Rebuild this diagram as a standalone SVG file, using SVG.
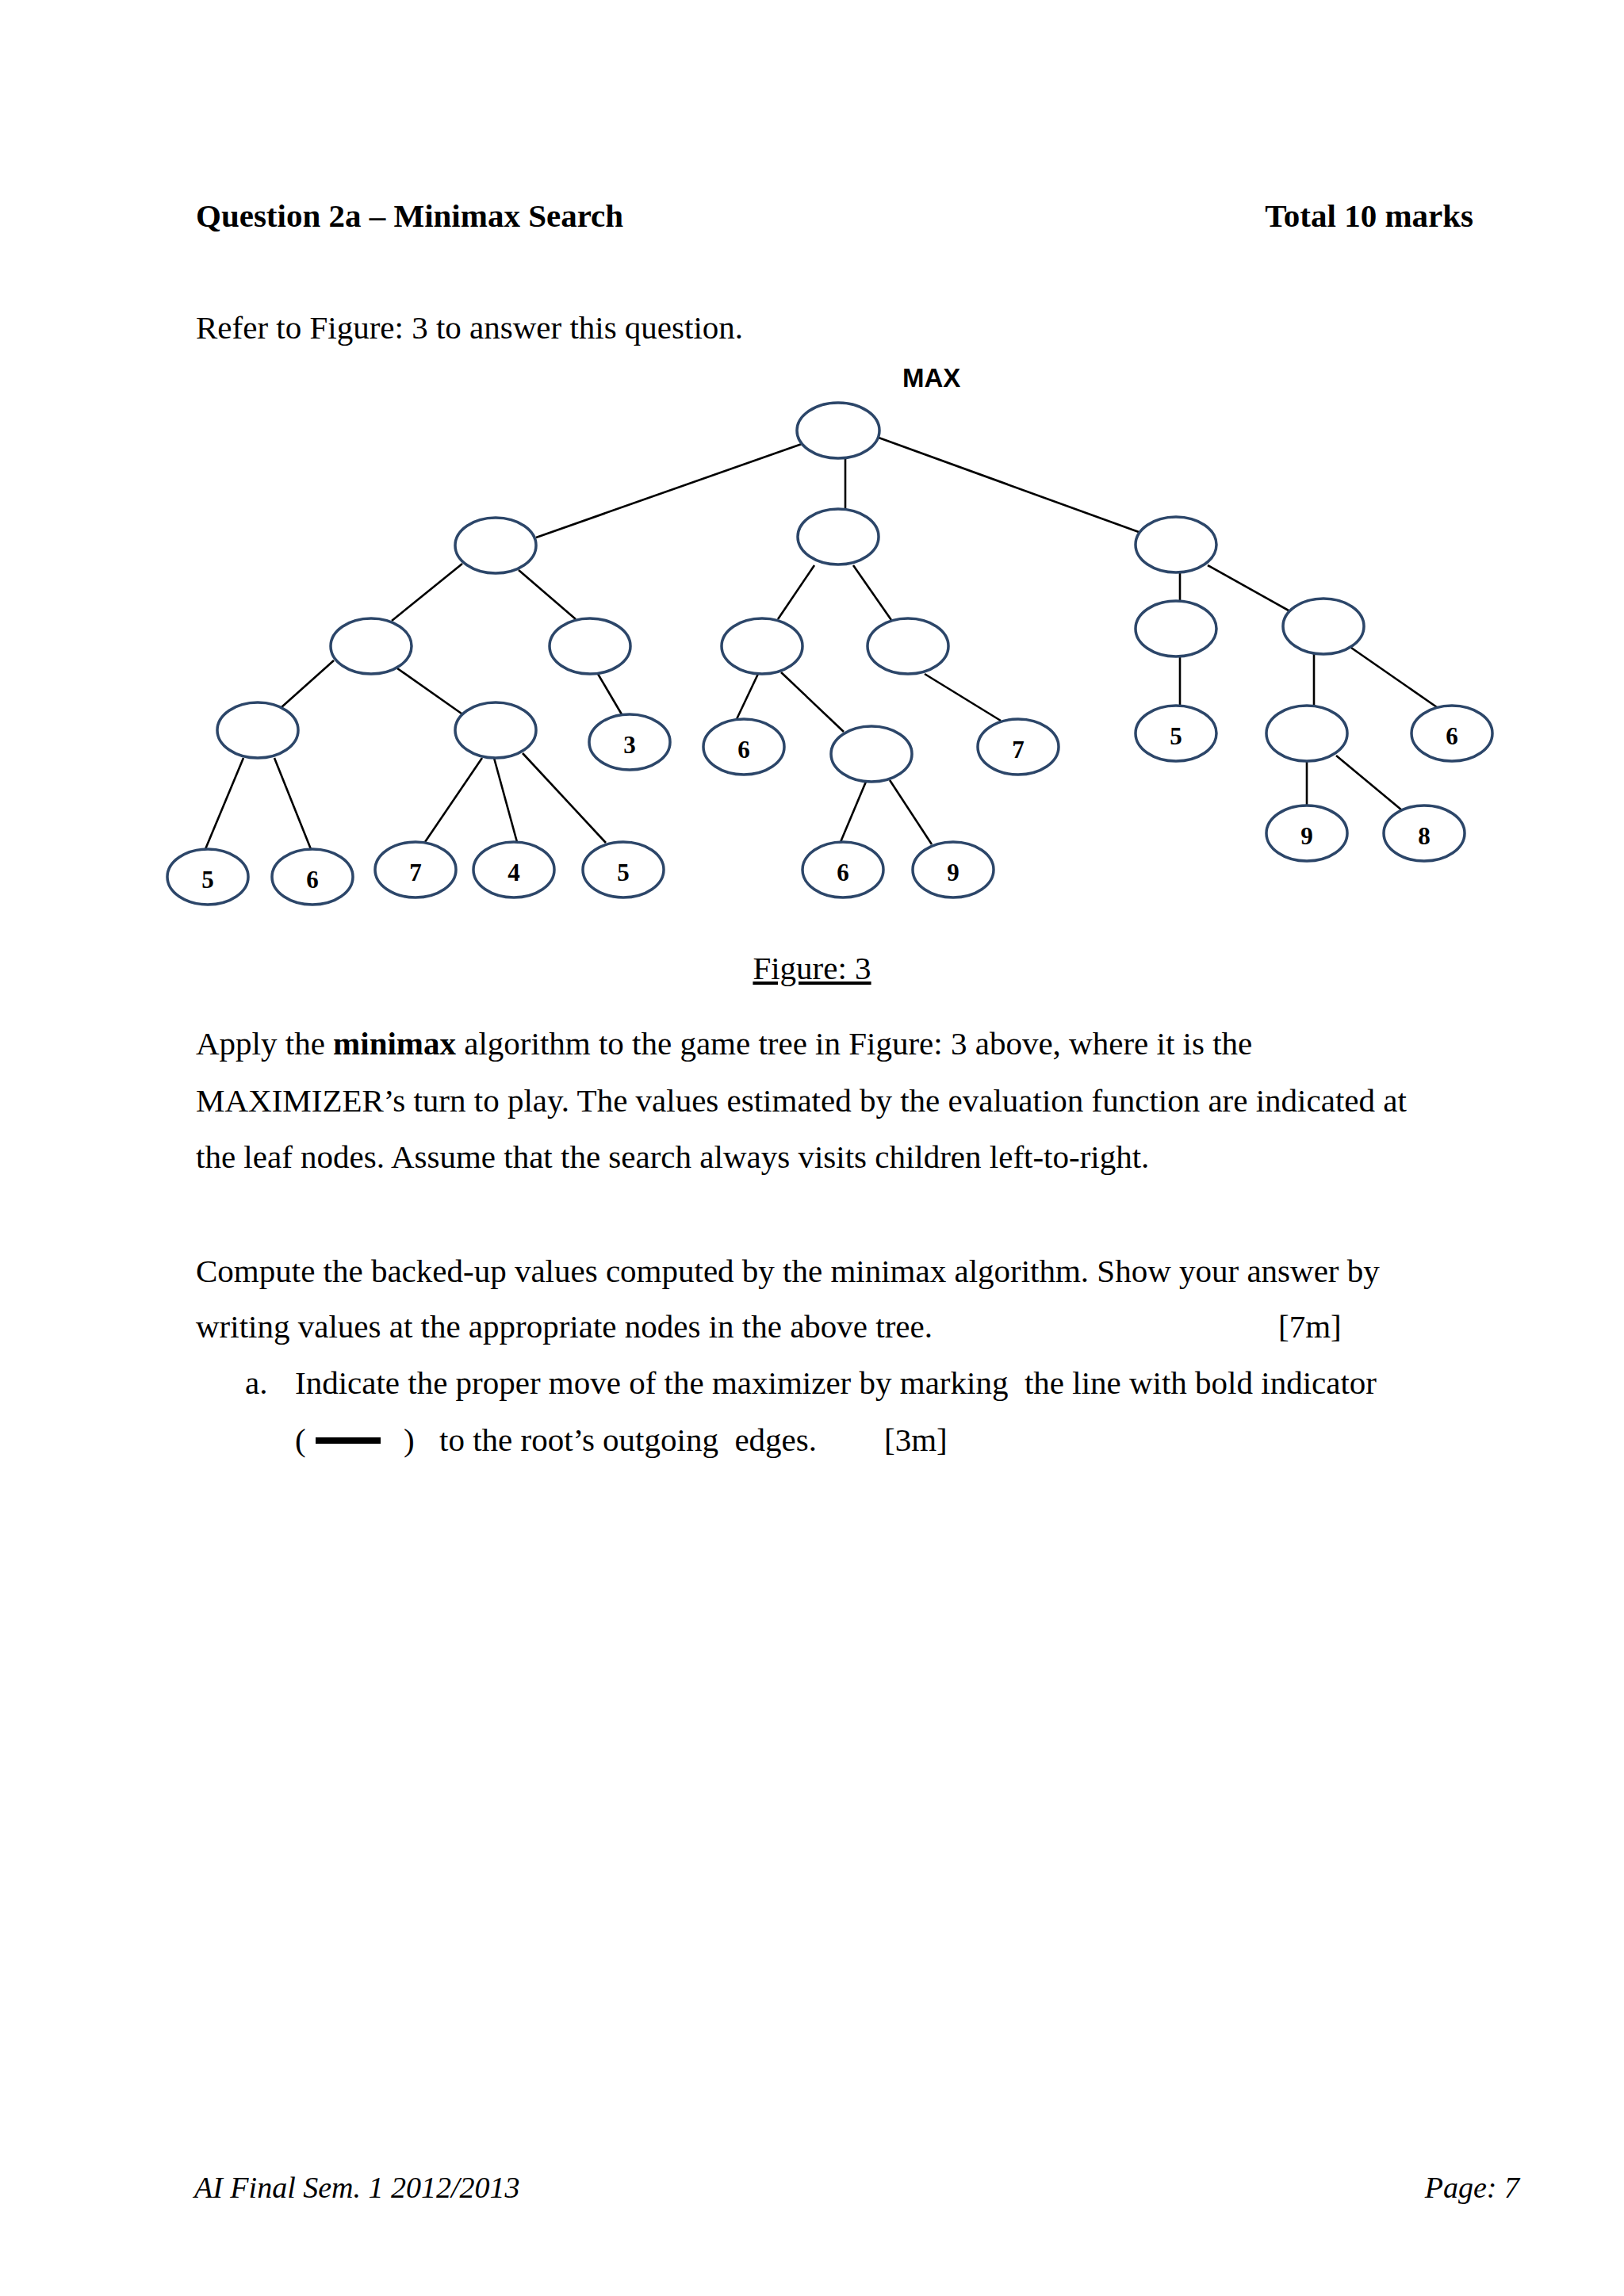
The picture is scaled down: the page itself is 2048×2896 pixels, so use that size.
<svg xmlns="http://www.w3.org/2000/svg" width="2048" height="2896" viewBox="0 0 2048 2896">
<style>
.body{font-family:"Liberation Serif","Times New Roman",serif;font-size:41px;fill:#000}
.b{font-weight:bold}
.foot{font-family:"Liberation Serif","Times New Roman",serif;font-size:38px;font-style:italic;fill:#000}
.node ellipse{fill:#fff;stroke:#2c4669;stroke-width:3.5}
.node text{font-family:"Liberation Serif","Times New Roman",serif;font-size:31px;font-weight:bold;text-anchor:middle;fill:#000}
.edges line{stroke:#000;stroke-width:2.6}
.max{font-family:"Liberation Sans",Arial,sans-serif;font-size:33px;font-weight:bold;fill:#000}
</style>
<rect width="2048" height="2896" fill="#fff"/>
<text class="body b" x="247" y="286">Question 2a – Minimax Search</text>
<text class="body b" x="1858" y="286" text-anchor="end">Total 10 marks</text>
<text class="body" x="247" y="427">Refer to Figure: 3 to answer this question.</text>
<text class="max" x="1138" y="488">MAX</text>
<g class="edges">
<line x1="1011" y1="560" x2="676" y2="678"/>
<line x1="1066" y1="578" x2="1066" y2="642"/>
<line x1="1108" y1="552" x2="1436" y2="671"/>
<line x1="583" y1="711" x2="494" y2="783"/>
<line x1="654" y1="719" x2="726" y2="781"/>
<line x1="1027" y1="713" x2="981" y2="781"/>
<line x1="1076" y1="713" x2="1124" y2="782"/>
<line x1="1488" y1="722" x2="1488" y2="758"/>
<line x1="1523" y1="713" x2="1625" y2="770"/>
<line x1="421" y1="833" x2="355" y2="892"/>
<line x1="501" y1="843" x2="582" y2="900"/>
<line x1="754" y1="850" x2="784" y2="901"/>
<line x1="956" y1="850" x2="929" y2="907"/>
<line x1="985" y1="848" x2="1064" y2="923"/>
<line x1="1166" y1="850" x2="1262" y2="909"/>
<line x1="1488" y1="828" x2="1488" y2="890"/>
<line x1="1657" y1="825" x2="1657" y2="890"/>
<line x1="1704" y1="817" x2="1812" y2="892"/>
<line x1="307" y1="956" x2="259" y2="1071"/>
<line x1="346" y1="956" x2="392" y2="1071"/>
<line x1="608" y1="956" x2="536" y2="1062"/>
<line x1="623" y1="956" x2="652" y2="1062"/>
<line x1="659" y1="950" x2="764" y2="1063"/>
<line x1="1092" y1="986" x2="1060" y2="1062"/>
<line x1="1122" y1="984" x2="1175" y2="1065"/>
<line x1="1648" y1="960" x2="1648" y2="1016"/>
<line x1="1685" y1="953" x2="1768" y2="1022"/>
</g>
<g id="root" class="node"><ellipse cx="1057" cy="543" rx="52" ry="35"/></g>
<g id="n1a" class="node"><ellipse cx="625" cy="688" rx="51" ry="35"/></g>
<g id="n1b" class="node"><ellipse cx="1057" cy="677" rx="51" ry="35"/></g>
<g id="n1c" class="node"><ellipse cx="1483" cy="687" rx="51" ry="35"/></g>
<g id="n2a" class="node"><ellipse cx="468" cy="815" rx="51" ry="35"/></g>
<g id="n2b" class="node"><ellipse cx="744" cy="815" rx="51" ry="35"/></g>
<g id="n2c" class="node"><ellipse cx="961" cy="815" rx="51" ry="35"/></g>
<g id="n2d" class="node"><ellipse cx="1145" cy="815" rx="51" ry="35"/></g>
<g id="n2e" class="node"><ellipse cx="1483" cy="793" rx="51" ry="35"/></g>
<g id="n2f" class="node"><ellipse cx="1669" cy="790" rx="51" ry="35"/></g>
<g id="n3a" class="node"><ellipse cx="325" cy="921" rx="51" ry="35"/></g>
<g id="n3b" class="node"><ellipse cx="625" cy="921" rx="51" ry="35"/></g>
<g id="n3c" class="node"><ellipse cx="794" cy="936" rx="51" ry="35"/><text x="794" y="950">3</text></g>
<g id="n3d" class="node"><ellipse cx="938" cy="942" rx="51" ry="35"/><text x="938" y="956">6</text></g>
<g id="n3e" class="node"><ellipse cx="1099" cy="951" rx="51" ry="35"/></g>
<g id="n3f" class="node"><ellipse cx="1284" cy="942" rx="51" ry="35"/><text x="1284" y="956">7</text></g>
<g id="n3g" class="node"><ellipse cx="1483" cy="925" rx="51" ry="35"/><text x="1483" y="939">5</text></g>
<g id="n3h" class="node"><ellipse cx="1648" cy="925" rx="51" ry="35"/></g>
<g id="n3i" class="node"><ellipse cx="1831" cy="925" rx="51" ry="35"/><text x="1831" y="939">6</text></g>
<g id="n4a" class="node"><ellipse cx="262" cy="1106" rx="51" ry="35"/><text x="262" y="1120">5</text></g>
<g id="n4b" class="node"><ellipse cx="394" cy="1106" rx="51" ry="35"/><text x="394" y="1120">6</text></g>
<g id="n4c" class="node"><ellipse cx="524" cy="1097" rx="51" ry="35"/><text x="524" y="1111">7</text></g>
<g id="n4d" class="node"><ellipse cx="648" cy="1097" rx="51" ry="35"/><text x="648" y="1111">4</text></g>
<g id="n4e" class="node"><ellipse cx="786" cy="1097" rx="51" ry="35"/><text x="786" y="1111">5</text></g>
<g id="n4f" class="node"><ellipse cx="1063" cy="1097" rx="51" ry="35"/><text x="1063" y="1111">6</text></g>
<g id="n4g" class="node"><ellipse cx="1202" cy="1097" rx="51" ry="35"/><text x="1202" y="1111">9</text></g>
<g id="n4h" class="node"><ellipse cx="1648" cy="1051" rx="51" ry="35"/><text x="1648" y="1065">9</text></g>
<g id="n4i" class="node"><ellipse cx="1796" cy="1051" rx="51" ry="35"/><text x="1796" y="1065">8</text></g>
<text class="body" x="1024" y="1235" text-anchor="middle" text-decoration="underline">Figure: 3</text>
<text class="body" x="247" y="1330">Apply the <tspan class="b">minimax</tspan> algorithm to the game tree in Figure: 3 above, where it is the</text>
<text class="body" x="247" y="1402">MAXIMIZER’s turn to play. The values estimated by the evaluation function are indicated at</text>
<text class="body" x="247" y="1473">the leaf nodes. Assume that the search always visits children left-to-right.</text>
<text class="body" x="247" y="1617">Compute the backed-up values computed by the minimax algorithm. Show your answer by</text>
<text class="body" x="247" y="1687">writing values at the appropriate nodes in the above tree.</text>
<text class="body" x="1612" y="1687">[7m]</text>
<text class="body" x="309" y="1758">a.</text>
<text class="body" x="372" y="1758" xml:space="preserve">Indicate the proper move of the maximizer by marking  the line with bold indicator</text>
<text class="body" x="372" y="1830">(</text>
<rect x="398" y="1813" width="82" height="8" fill="#000"/>
<text class="body" x="509" y="1830">)</text>
<text class="body" x="554" y="1830" xml:space="preserve">to the root’s outgoing  edges.</text>
<text class="body" x="1115" y="1830">[3m]</text>
<text class="foot" x="245" y="2772">AI Final Sem. 1 2012/2013</text>
<text class="foot" x="1916" y="2772" text-anchor="end">Page: 7</text>
</svg>
